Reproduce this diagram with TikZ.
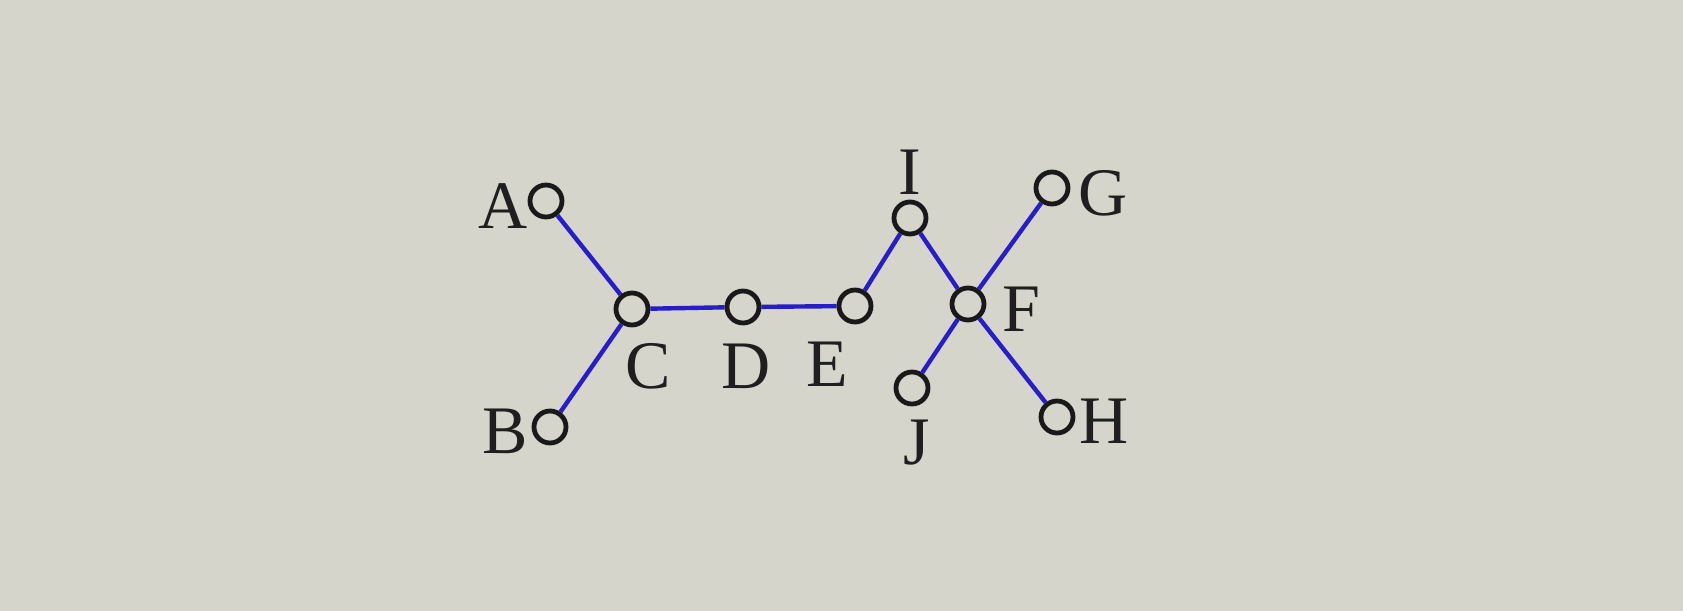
\documentclass[tikz,border=0pt]{standalone}
\usepackage{fontspec}
\setmainfont{Liberation Serif}
\definecolor{bg}{RGB}{214,213,204}
\definecolor{edgeblue}{RGB}{40,30,200}
\begin{document}
\begin{tikzpicture}[x=0.5pt,y=-0.5pt,
  vert/.style={circle,draw=black!90,line width=2.4pt,minimum size=16pt,inner sep=0pt},
  lbl/.style={font=\fontsize{34}{38}\selectfont,text=black!88,inner sep=0pt},
  edge/.style={draw=edgeblue,line width=2.2pt}]
\fill[bg] (0,0) rectangle (1683,611);
\useasboundingbox (0,0) rectangle (1683,611);
\node[vert] (A) at (546,201) {};
\node[vert] (B) at (550,427) {};
\node[vert] (C) at (632,309) {};
\node[vert] (D) at (743,307) {};
\node[vert] (E) at (855,306) {};
\node[vert] (I) at (910,218) {};
\node[vert] (F) at (968,304) {};
\node[vert] (G) at (1052,188) {};
\node[vert] (J) at (912,388) {};
\node[vert] (H) at (1057,417) {};
\node[lbl] (lA) at (503,206) {A};
\node[lbl] (lB) at (505,431) {B};
\node[lbl] (lC) at (648,366) {C};
\node[lbl] (lD) at (746,366) {D};
\node[lbl] (lE) at (827,364) {E};
\node[lbl] (lI) at (910,172) {I};
\node[lbl] (lF) at (1021,309) {F};
\node[lbl] (lG) at (1103,193) {G};
\node[lbl] (lJ) at (917,443) {J};
\node[lbl] (lH) at (1104,421) {H};
\draw[edge] (A) -- (C);
\draw[edge] (B) -- (C);
\draw[edge] (C) -- (D);
\draw[edge] (D) -- (E);
\draw[edge] (E) -- (I);
\draw[edge] (I) -- (F);
\draw[edge] (F) -- (G);
\draw[edge] (F) -- (H);
\draw[edge] (F) -- (J);
\end{tikzpicture}
\end{document}
